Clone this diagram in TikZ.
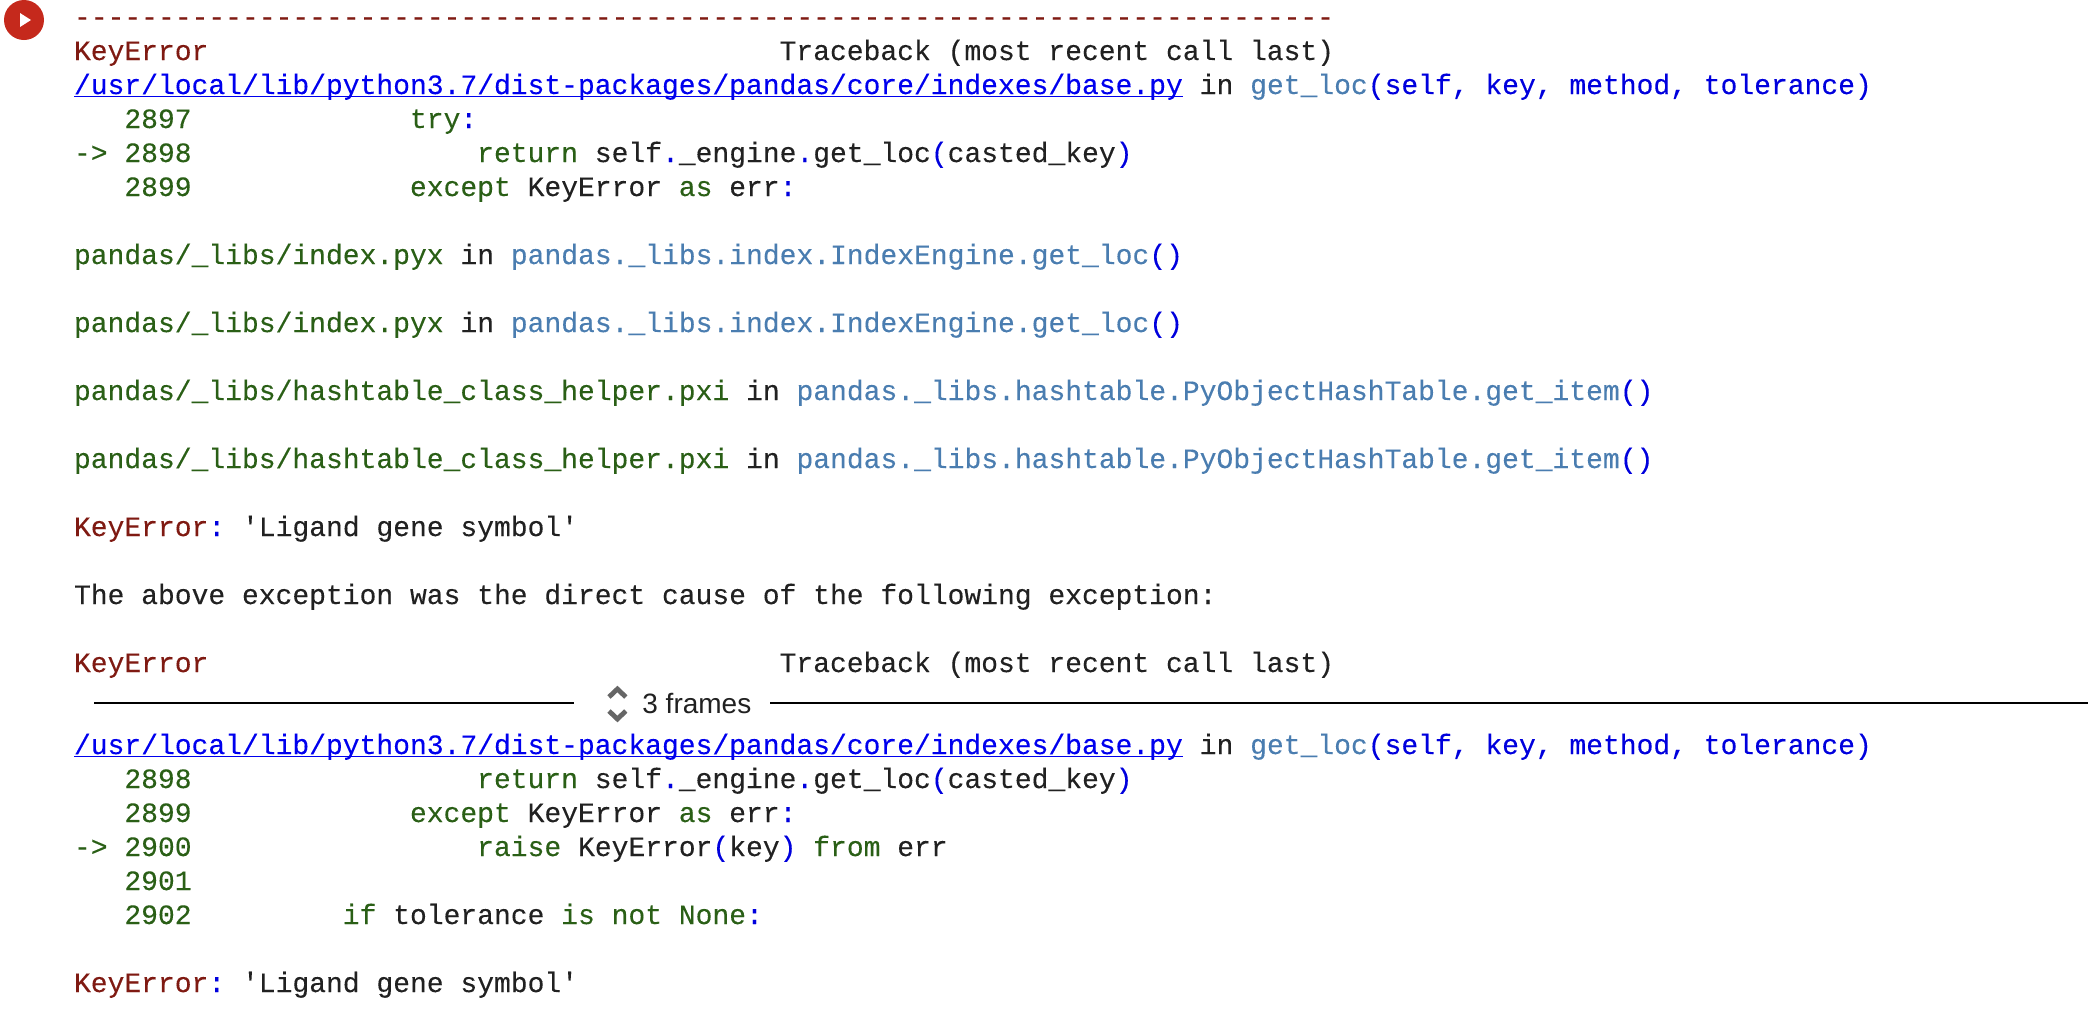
\documentclass[tikz,border=0pt]{standalone}
\usepackage{fontspec}
\setmonofont[FakeBold=0.2]{Liberation Mono}
\setsansfont{Liberation Sans}
\usepackage{xcolor}
\usetikzlibrary{positioning, calc}

\definecolor{errred}{HTML}{7F1A12}
\definecolor{kwgreen}{HTML}{2A5F16}
\definecolor{punblue}{HTML}{0000DD}
\definecolor{fnblue}{HTML}{4A7DB0}
\definecolor{linkblue}{HTML}{0000EE}
\definecolor{codeblack}{HTML}{212121}
\definecolor{playred}{HTML}{C5291C}

\newcommand{\ind}[1]{\hspace*{#1\dimexpr 8.4pt\relax}}
\newcommand{\kw}[1]{\textcolor{kwgreen}{#1}}
\newcommand{\pun}[1]{\textcolor{punblue}{#1}}
\newcommand{\errn}[1]{\textcolor{errred}{#1}}
\newcommand{\fnn}[1]{\textcolor{fnblue}{#1}}
\newcommand{\lnk}[1]{\textcolor{linkblue}{\underline{\smash{#1}}}}
\newcommand{\basepy}{\lnk{/usr/local/lib/python3.7/dist-packages/pandas/core/indexes/base.py}}

\begin{document}
\begin{tikzpicture}

\tikzstyle{codeline} = [inner sep=0pt, outer sep=0pt, text height=11pt, text depth=6pt, font=\ttfamily\fontsize{14pt}{17pt}\selectfont, text=codeblack]
\tikzstyle{rule} = [line width=1pt, black]
\tikzstyle{chevron} = [line width=2.4pt, draw=black!60]

\useasboundingbox (0,0) rectangle (1044pt,-507pt);

% run button
\node (play) [circle, fill=playred, minimum size=20pt, inner sep=0pt] at (12pt,-10pt) {};
\fill [white] ($(play.center)+(-2pt,3.5pt)$) -- ($(play.center)+(3.5pt,0pt)$) -- ($(play.center)+(-2pt,-3.5pt)$) -- cycle;

% first traceback
\node (dashes) [codeline, anchor=north west] at (37pt,-2pt) {\errn{---------------------------------------------------------------------------}};
\node (keyA) [codeline, below=0pt of dashes.south west, anchor=north west] {\errn{KeyError}\ind{34}Traceback (most recent call last)};
\node (pathA) [codeline, below=0pt of keyA.south west, anchor=north west] {\basepy{} in \fnn{get\_loc}\pun{(self, key, method, tolerance)}};
\node (tryl) [codeline, below=0pt of pathA.south west, anchor=north west] {\kw{\ind{3}2897\ind{13}try}\pun{:}};
\node (retl) [codeline, below=0pt of tryl.south west, anchor=north west] {\kw{-> 2898\ind{17}return} self\pun{.}\_engine\pun{.}get\_loc\pun{(}casted\_key\pun{)}};
\node (excl) [codeline, below=0pt of retl.south west, anchor=north west] {\kw{\ind{3}2899\ind{13}except} KeyError \kw{as} err\pun{:}};

\node (idxA) [codeline, below=17pt of excl.south west, anchor=north west] {\kw{pandas/\_libs/index.pyx} in \fnn{pandas.\_libs.index.IndexEngine.get\_loc}\pun{()}};
\node (idxB) [codeline, below=17pt of idxA.south west, anchor=north west] {\kw{pandas/\_libs/index.pyx} in \fnn{pandas.\_libs.index.IndexEngine.get\_loc}\pun{()}};
\node (hashA) [codeline, below=17pt of idxB.south west, anchor=north west] {\kw{pandas/\_libs/hashtable\_class\_helper.pxi} in \fnn{pandas.\_libs.hashtable.PyObjectHashTable.get\_item}\pun{()}};
\node (hashB) [codeline, below=17pt of hashA.south west, anchor=north west] {\kw{pandas/\_libs/hashtable\_class\_helper.pxi} in \fnn{pandas.\_libs.hashtable.PyObjectHashTable.get\_item}\pun{()}};

\node (errA) [codeline, below=17pt of hashB.south west, anchor=north west] {\errn{KeyError}\pun{:} 'Ligand gene symbol'};
\node (above) [codeline, below=17pt of errA.south west, anchor=north west] {The above exception was the direct cause of the following exception:};

% second traceback
\node (keyB) [codeline, below=17pt of above.south west, anchor=north west] {\errn{KeyError}\ind{34}Traceback (most recent call last)};

\node (frames) [inner sep=0pt, text=codeblack, font=\sffamily\fontsize{14pt}{16pt}\selectfont, anchor=west] at (321pt,-351.5pt) {3 frames};
\coordinate (ruleA) at (47pt,-351.5pt);
\coordinate (ruleB) at (287pt,-351.5pt);
\coordinate (ruleC) at (385pt,-351.5pt);
\coordinate (ruleD) at (1044pt,-351.5pt);
\draw [rule] (ruleA) -- (ruleB);
\draw [rule] (ruleC) -- (ruleD);
\coordinate (updown) at (308.7pt,-351.5pt);
\draw [chevron] ($(updown)+(-4.2pt,3pt)$) -- ($(updown)+(0pt,7pt)$) -- ($(updown)+(4.2pt,3pt)$);
\draw [chevron] ($(updown)+(-4.2pt,-4pt)$) -- ($(updown)+(0pt,-8pt)$) -- ($(updown)+(4.2pt,-4pt)$);

\node (pathB) [codeline, below=24pt of keyB.south west, anchor=north west] {\basepy{} in \fnn{get\_loc}\pun{(self, key, method, tolerance)}};
\node (retB) [codeline, below=0pt of pathB.south west, anchor=north west] {\kw{\ind{3}2898\ind{17}return} self\pun{.}\_engine\pun{.}get\_loc\pun{(}casted\_key\pun{)}};
\node (excB) [codeline, below=0pt of retB.south west, anchor=north west] {\kw{\ind{3}2899\ind{13}except} KeyError \kw{as} err\pun{:}};
\node (raiseB) [codeline, below=0pt of excB.south west, anchor=north west] {\kw{-> 2900\ind{17}raise} KeyError\pun{(}key\pun{)} \kw{from} err};
\node (blankB) [codeline, below=0pt of raiseB.south west, anchor=north west] {\kw{\ind{3}2901}};
\node (ifB) [codeline, below=0pt of blankB.south west, anchor=north west] {\kw{\ind{3}2902\ind{9}if} tolerance \kw{is not None}\pun{:}};

\node (errB) [codeline, below=17pt of ifB.south west, anchor=north west] {\errn{KeyError}\pun{:} 'Ligand gene symbol'};

\end{tikzpicture}
\end{document}
